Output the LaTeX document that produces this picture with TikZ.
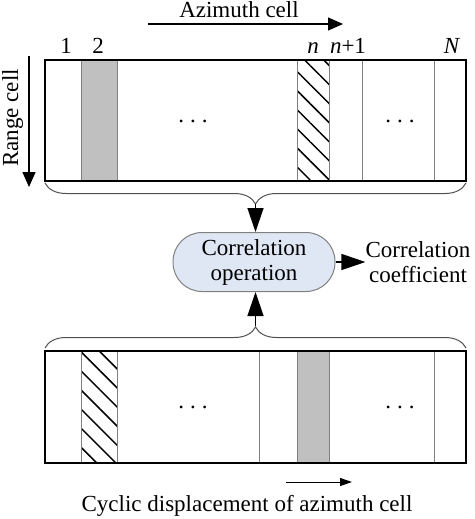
\documentclass[tikz,border=0pt]{standalone}
\usepackage{fontspec}
\setmainfont{Liberation Serif}
\usetikzlibrary{positioning,arrows.meta,patterns.meta,decorations.pathreplacing}

\definecolor{cellgray}{RGB}{192,192,192}
\definecolor{opfill}{RGB}{222,231,243}
\definecolor{bracegray}{RGB}{80,80,80}
\newcommand{\lblsize}{\fontsize{23}{23}\selectfont}
\newcommand{\celldots}{.\kern6pt.\kern6pt.}

\tikzset{
  frame/.style={draw=black, line width=1.4pt, inner sep=0pt},
  divider/.style={draw=gray, line width=0.9pt},
  shaded/.style={fill=cellgray, draw=gray, line width=0.9pt},
  hatched/.style={pattern={Lines[angle=-45,distance=13.5pt,line width=1.5pt]}, draw=gray, line width=0.9pt},
  lbl/.style={inner sep=0pt},
  dotsnode/.style={inner sep=0pt},
  opbox/.style={draw=gray, fill=opfill, line width=1pt, rounded corners=29pt,
    minimum width=162pt, minimum height=59pt, align=center, inner sep=0pt},
  bigarrow/.style={-{Triangle[length=24pt,width=16pt]}, line width=1.3pt},
  thinarrow/.style={-{Triangle[length=15pt,width=13pt]}, line width=1.5pt},
  brc/.style={decorate, decoration={brace, amplitude=21pt}, draw=bracegray, line width=1pt},
}

\begin{document}
\begin{tikzpicture}[x=1pt, y=-1pt, font=\lblsize]
\useasboundingbox (0,0) rectangle (474,519);

% Upper block
\fill[white] (45,60) rectangle (466,181);
\path[shaded] (81,60) rectangle (117,181);
\path[hatched] (297,60) rectangle (329,181);
\foreach \x in {362,434} \draw[divider] (\x,60) -- (\x,181);
\node[frame, minimum width=421pt, minimum height=121pt] (upper) at (255.5,120.5) {};
\node[dotsnode] (updotsA) at (193,121) {\celldots};
\node[dotsnode] (updotsB) at (400,121) {\celldots};

% Column labels
\node[lbl, anchor=base] (c1) at (66,54) {1};
\node[lbl, anchor=base] (c2) at (98,54) {2};
\node[lbl, anchor=base] (cn) at (313,54) {\textit{n}};
\node[lbl, anchor=base] (cn1) at (348,54) {\textit{n}+1};
\node[lbl, anchor=base] (cN) at (452,54) {\textit{N}};

% Axis arrows
\node[lbl, anchor=base] (azlbl) at (239,18) {Azimuth cell};
\coordinate (azA) at (148,24);
\coordinate (azB) at (343,24);
\draw[thinarrow] (azA) -- (azB);
\node[lbl, rotate=90, anchor=base] (rglbl) at (18,118) {Range cell};
\coordinate (rgA) at (29,56);
\coordinate (rgB) at (29,187);
\draw[thinarrow] (rgA) -- (rgB);

% Braces and correlation
\draw[brc] (466,183) -- (45,183);
\coordinate (uptip) at (255.5,204);
\coordinate (lotip) at (255.5,326);
\node[opbox] (corr) at (254,262) {Correlation\\[2pt]operation};
\node[lbl, align=center] (coef) at (418,262) {Correlation\\[2pt]coefficient};
\draw[bigarrow] (uptip) -- (uptip |- corr.north);
\draw[bigarrow] (corr.east) -- (coef.west);
\draw[brc] (45,348) -- (466,348);
\draw[bigarrow] (lotip) -- (lotip |- corr.south);

% Lower block
\fill[white] (45,351) rectangle (466,463);
\path[hatched] (81,351) rectangle (117,463);
\path[shaded] (297,351) rectangle (329,463);
\foreach \x in {259,434} \draw[divider] (\x,351) -- (\x,463);
\node[frame, minimum width=421pt, minimum height=112pt] (lower) at (255.5,407) {};
\node[dotsnode] (lodotsA) at (193,407) {\celldots};
\node[dotsnode] (lodotsB) at (400,407) {\celldots};

% Shift label
\coordinate (shA) at (286,482);
\coordinate (shB) at (352,482);
\draw[-{Triangle[length=12pt,width=8pt]}, line width=1pt] (shA) -- (shB);
\node[lbl, anchor=base] (shlbl) at (247,511) {Cyclic displacement of azimuth cell};

\end{tikzpicture}
\end{document}
